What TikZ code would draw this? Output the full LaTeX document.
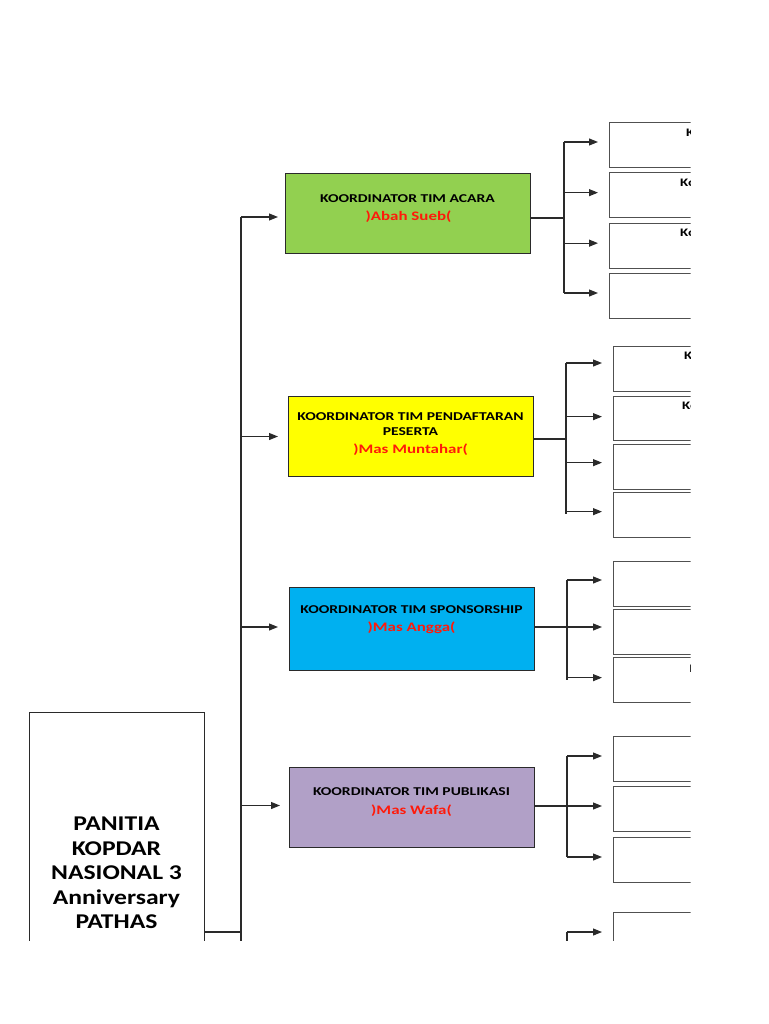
\documentclass[tikz,border=0pt]{standalone}
\usepackage{fontspec}
\usepackage{graphicx}
\setmainfont{Carlito}
\usetikzlibrary{arrows.meta}
\definecolor{cgreen}{HTML}{92D050}
\definecolor{cyellow}{HTML}{FFFF00}
\definecolor{cblue}{HTML}{00B0F0}
\definecolor{cpurple}{HTML}{B1A0C7}
\definecolor{lineg}{HTML}{2A2A2A}
\definecolor{boxg}{HTML}{505050}
\definecolor{cred}{HTML}{FF1A0A}
\newcommand{\hsc}[1]{\scalebox{1.3}[1]{#1}}
\newcommand{\hsm}[1]{\scalebox{1.22}[1]{#1}}
\begin{document}
\begin{tikzpicture}[x=1pt,y=-1pt,
  line/.style={draw=lineg, line width=1.1pt},
  arr/.style={line, -{Triangle[length=9pt,width=7pt]}},
  coordbox/.style={draw=lineg, line width=1pt, minimum width=245pt, minimum height=80pt, inner sep=0pt, anchor=north west},
  subbox/.style={draw=boxg, line width=1.3pt, minimum width=160pt, minimum height=45pt, inner sep=0pt, anchor=north west},
  ctext/.style={font=\bfseries\fontsize{12}{15}\selectfont, align=center, inner sep=0pt},
  cname/.style={font=\bfseries\fontsize{13}{15}\selectfont, text=cred, inner sep=0pt},
  subtext/.style={font=\bfseries\fontsize{11.5}{13}\selectfont, anchor=west, inner sep=0pt},
  maintext/.style={font=\bfseries\fontsize{21}{24.5}\selectfont, align=center, inner sep=0pt}
]
\useasboundingbox (0,0) rectangle (768,1024);
\begin{scope}
\clip (0,0) rectangle (690.5,940);
% main box
\node[draw=lineg, line width=1pt, minimum width=175pt, minimum height=290pt, inner sep=0pt, anchor=north west] (main) at (29,712) {};
\node[maintext] (mainT) at (116.5,873) {\hsm{PANITIA}\\\hsm{KOPDAR}\\\hsm{NASIONAL 3}\\\hsm{Anniversary}\\\hsm{PATHAS}};
% coordinator boxes
\node[coordbox, fill=cgreen] (acara) at (285,173) {};
\node[ctext] (acaraT) at (407.5,199) {\hsc{KOORDINATOR TIM ACARA}};
\node[cname] (acaraN) at (408.5,217) {\hsc{)Abah Sueb(}};
\node[coordbox, fill=cyellow] (pend) at (288,396) {};
\node[ctext] (pendT) at (410.5,424) {\hsc{KOORDINATOR TIM PENDAFTARAN}\\\hsc{PESERTA}};
\node[cname] (pendN) at (410.5,450) {\hsc{)Mas Muntahar(}};
\node[coordbox, fill=cblue, minimum height=83pt] (spon) at (289,587) {};
\node[ctext] (sponT) at (411.5,610) {\hsc{KOORDINATOR TIM SPONSORSHIP}};
\node[cname] (sponN) at (411.5,628) {\hsc{)Mas Angga(}};
\node[coordbox, fill=cpurple] (publ) at (289,767) {};
\node[ctext] (publT) at (411.5,792) {\hsc{KOORDINATOR TIM PUBLIKASI}};
\node[cname] (publN) at (411.5,811) {\hsc{)Mas Wafa(}};
% main trunk
\coordinate (tTop) at (241,217);
\coordinate (tJoin) at (241,932);
\coordinate (tBot) at (241,945);
\draw[line] (tTop) -- (tBot);
\draw[line] (main.east |- tJoin) -- (tJoin);
\draw[arr, shorten >=7pt] (tTop) -- (acara.west |- tTop);
\draw[arr, shorten >=10pt] (tTop |- pend.west) -- (pend.west);
\draw[arr, shorten >=11pt] ([yshift=2pt]tTop |- spon.west) -- ([yshift=2pt]spon.west);
\draw[arr, shorten >=9pt] ([yshift=2pt]tTop |- publ.west) -- ([yshift=2pt]publ.west);
% section 1
\node[subbox] (a1) at (609,122) {};
\node[subbox] (a2) at (609,172) {};
\node[subbox] (a3) at (609,223) {};
\node[subbox] (a4) at (609,273) {};
\node[subtext] (a1t) at (686,133) {\hsc{Ko}};
\node[subtext] (a2t) at (680,183) {\hsc{Ko}};
\node[subtext] (a3t) at (680,233) {\hsc{Ko}};
\coordinate (aTop) at (564,142);
\coordinate (aJoin) at (564,218);
\coordinate (aBot) at (564,293);
\draw[line] (acara.east |- aJoin) -- (aJoin);
\draw[line] (aTop) -- (aBot);
\draw[arr, shorten >=11pt] (aTop) -- (a1.west |- aTop);
\draw[arr, shorten >=11pt] ([yshift=2.5pt]aTop |- a2.west) -- ([yshift=2.5pt]a2.west);
\draw[arr, shorten >=11pt] ([yshift=3pt]aTop |- a3.west) -- ([yshift=3pt]a3.west);
\draw[arr, shorten >=11pt] (aBot) -- (a4.west |- aBot);
% section 2
\node[subbox] (b1) at (613,346) {};
\node[subbox, minimum height=44pt] (b2) at (613,396) {};
\node[subbox] (b3) at (613,444) {};
\node[subbox] (b4) at (613,492) {};
\node[subtext] (b1t) at (684,356) {\hsc{Ko}};
\node[subtext] (b2t) at (682,406) {\hsc{Ko}};
\coordinate (bTop) at (566,363);
\coordinate (bJoin) at (566,439);
\coordinate (bBot) at (566,514);
\draw[line] (pend.east |- bJoin) -- (bJoin);
\draw[line] (bTop) -- (bBot);
\draw[arr, shorten >=11pt] (bTop) -- (b1.west |- bTop);
\draw[arr, shorten >=11pt] ([yshift=2pt]bTop |- b2.west) -- ([yshift=2pt]b2.west);
\draw[arr, shorten >=11pt] ([yshift=4.5pt]bTop |- b3.west) -- ([yshift=4.5pt]b3.west);
\draw[arr, shorten >=11pt] ([yshift=3.5pt]bTop |- b4.west) -- ([yshift=3.5pt]b4.west);
% section 3
\node[subbox] (c1) at (613,561) {};
\node[subbox] (c2) at (613,609) {};
\node[subbox] (c3) at (613,657) {};
\node[subtext] (c3t) at (689.3,669) {\hsc{K}};
\coordinate (cTop) at (567,580);
\coordinate (cJoin) at (567,627);
\coordinate (cBot) at (567,680);
\draw[line] (cTop) -- (cBot);
\draw[arr, shorten >=11pt] (cTop) -- (c1.west |- cTop);
\draw[arr, shorten >=11pt] (spon.east |- cJoin) -- (c2.west |- cJoin);
\draw[arr, shorten >=11pt] ([yshift=2.5pt]cTop |- c3.west) -- ([yshift=2.5pt]c3.west);
% section 4
\node[subbox] (d1) at (613,736) {};
\node[subbox] (d2) at (613,786) {};
\node[subbox] (d3) at (613,837) {};
\node[subbox, minimum height=60pt] (d4) at (613,912) {};
\coordinate (dTop) at (567,756);
\coordinate (dJoin) at (567,806);
\coordinate (dBot) at (567,857);
\coordinate (eTop) at (567,932);
\coordinate (eBot) at (567,945);
\draw[line] (dTop) -- (dBot);
\draw[arr, shorten >=11pt] (dTop) -- (d1.west |- dTop);
\draw[arr, shorten >=11pt] (publ.east |- dJoin) -- (d2.west |- dJoin);
\draw[arr, shorten >=11pt] (dBot) -- (d3.west |- dBot);
\draw[line] (eTop) -- (eBot);
\draw[arr, shorten >=11pt] (eTop) -- (d4.west |- eTop);
\end{scope}
\end{tikzpicture}
\end{document}
